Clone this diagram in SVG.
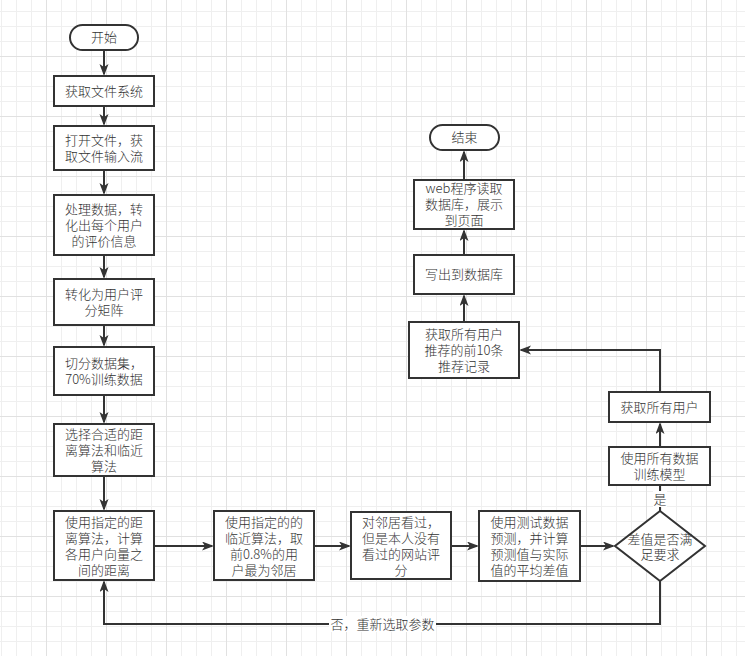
<svg xmlns="http://www.w3.org/2000/svg" width="745" height="656" viewBox="0 0 745 656">
<defs>
<pattern id="grid" x="46" y="56" width="60" height="60" patternUnits="userSpaceOnUse">
<path d="M15.5 0V60M30.5 0V60M45.5 0V60M0 15.5H60M0 30.5H60M0 45.5H60" stroke="#efefef" stroke-width="1" fill="none"/>
<path d="M0.5 0V60M0 0.5H60" stroke="#e1e1e1" stroke-width="1" fill="none"/>
</pattern>
<marker id="arr" markerUnits="userSpaceOnUse" markerWidth="12" markerHeight="10" refX="10" refY="4.5" orient="auto">
<path d="M0,0 L12,4.5 L0,9 L3,4.5 Z" fill="#333333"/>
</marker>
</defs>
<style>
.box{fill:#ffffff;stroke:#333333;stroke-width:2}
.t{font-family:"Noto Sans CJK SC","Liberation Sans",sans-serif;font-size:13px;font-weight:300;fill:#333333;text-anchor:middle}
.e{fill:none;stroke:#333333;stroke-width:2}
.lb{fill:#ffffff}
</style>
<rect x="0" y="0" width="745" height="656" fill="#ffffff"/>
<rect x="0" y="0" width="745" height="656" fill="url(#grid)"/>

<g id="connectors">
<path class="e" d="M104 50V74" marker-end="url(#arr)"/>
<path class="e" d="M104 106V124" marker-end="url(#arr)"/>
<path class="e" d="M104 170V193" marker-end="url(#arr)"/>
<path class="e" d="M104 255V277" marker-end="url(#arr)"/>
<path class="e" d="M104 325V345" marker-end="url(#arr)"/>
<path class="e" d="M104 395V422" marker-end="url(#arr)"/>
<path class="e" d="M104 476V509" marker-end="url(#arr)"/>
<path class="e" d="M154 546H212" marker-end="url(#arr)"/>
<path class="e" d="M314 546H349" marker-end="url(#arr)"/>
<path class="e" d="M451 546H477" marker-end="url(#arr)"/>
<path class="e" d="M580 546H613" marker-end="url(#arr)"/>
<path class="e" d="M660 581V624H104V582" marker-end="url(#arr)"/>
<path class="e" d="M660 511V485"/>
<path class="e" d="M660 447V424" marker-end="url(#arr)"/>
<path class="e" d="M660 392V350H521" marker-end="url(#arr)"/>
<path class="e" d="M464 322V296" marker-end="url(#arr)"/>
<path class="e" d="M464 255V231" marker-end="url(#arr)"/>
<path class="e" d="M464 180V152" marker-end="url(#arr)"/>
<rect class="lb" x="329" y="616" width="107" height="16"/>
<text class="t" x="382.5" y="628.5">否，重新选取参数</text>
<rect class="lb" x="653" y="491" width="14" height="16"/>
<text class="t" x="660" y="503.5">是</text>
</g>

<g id="start">
<rect class="box" x="70" y="25" width="68" height="25" rx="12.5"/>
<text class="t" x="104" y="42">开始</text>
</g>
<g id="n1">
<rect class="box" x="54" y="76" width="100" height="30"/>
<text class="t" x="104" y="95.5">获取文件系统</text>
</g>
<g id="n2">
<rect class="box" x="54" y="126" width="100" height="44"/>
<text class="t" x="104" y="144.5">打开文件，获<tspan x="104" dy="16">取文件输入流</tspan></text>
</g>
<g id="n3">
<rect class="box" x="54" y="195" width="100" height="60"/>
<text class="t" x="104" y="213.5">处理数据，转<tspan x="104" dy="16">化出每个用户</tspan><tspan x="104" dy="16">的评价信息</tspan></text>
</g>
<g id="n4">
<rect class="box" x="54" y="279" width="100" height="46"/>
<text class="t" x="104" y="298.5">转化为用户评<tspan x="104" dy="16">分矩阵</tspan></text>
</g>
<g id="n5">
<rect class="box" x="54" y="347" width="100" height="48"/>
<text class="t" x="104" y="367.5">切分数据集，<tspan x="104" dy="16">70%训练数据</tspan></text>
</g>
<g id="n6">
<rect class="box" x="54" y="424" width="100" height="52"/>
<text class="t" x="104" y="438.5">选择合适的距<tspan x="104" dy="16">离算法和临近</tspan><tspan x="104" dy="16">算法</tspan></text>
</g>
<g id="n7">
<rect class="box" x="54" y="511" width="100" height="69"/>
<text class="t" x="104" y="526.5">使用指定的距<tspan x="104" dy="16">离算法，计算</tspan><tspan x="104" dy="16">各用户向量之</tspan><tspan x="104" dy="16">间的距离</tspan></text>
</g>
<g id="n8">
<rect class="box" x="214" y="511" width="100" height="69"/>
<text class="t" x="264" y="526.5">使用指定的的<tspan x="264" dy="16">临近算法，取</tspan><tspan x="264" dy="16">前0.8%的用</tspan><tspan x="264" dy="16">户最为邻居</tspan></text>
</g>
<g id="n9">
<rect class="box" x="351" y="512" width="100" height="67"/>
<text class="t" x="401" y="526.5">对邻居看过，<tspan x="401" dy="16">但是本人没有</tspan><tspan x="401" dy="16">看过的网站评</tspan><tspan x="401" dy="16">分</tspan></text>
</g>
<g id="n10">
<rect class="box" x="479" y="511" width="101" height="70"/>
<text class="t" x="529.5" y="526.5">使用测试数据<tspan x="529.5" dy="16">预测，并计算</tspan><tspan x="529.5" dy="16">预测值与实际</tspan><tspan x="529.5" dy="16">值的平均差值</tspan></text>
</g>
<g id="decision">
<path class="box" d="M660 511L705 546L660 581L615 546Z"/>
<text class="t" x="660" y="543.5">差值是否满<tspan x="660" dy="15">足要求</tspan></text>
</g>
<g id="n11">
<rect class="box" x="609" y="447" width="101" height="38"/>
<text class="t" x="659.5" y="462.5">使用所有数据<tspan x="659.5" dy="16">训练模型</tspan></text>
</g>
<g id="n12">
<rect class="box" x="609" y="392" width="101" height="30"/>
<text class="t" x="659.5" y="411.5">获取所有用户</text>
</g>
<g id="n13">
<rect class="box" x="409" y="322" width="110" height="56"/>
<text class="t" x="464" y="338.5">获取所有用户<tspan x="464" dy="16">推荐的前10条</tspan><tspan x="464" dy="16">推荐记录</tspan></text>
</g>
<g id="n14">
<rect class="box" x="414" y="255" width="100" height="39"/>
<text class="t" x="464" y="278.5">写出到数据库</text>
</g>
<g id="n15">
<rect class="box" x="414" y="180" width="100" height="49"/>
<text class="t" x="464" y="193">web程序读取<tspan x="464" dy="16">数据库，展示</tspan><tspan x="464" dy="16">到页面</tspan></text>
</g>
<g id="end">
<rect class="box" x="430" y="125" width="69" height="25" rx="12.5"/>
<text class="t" x="464.5" y="142">结束</text>
</g>
</svg>
